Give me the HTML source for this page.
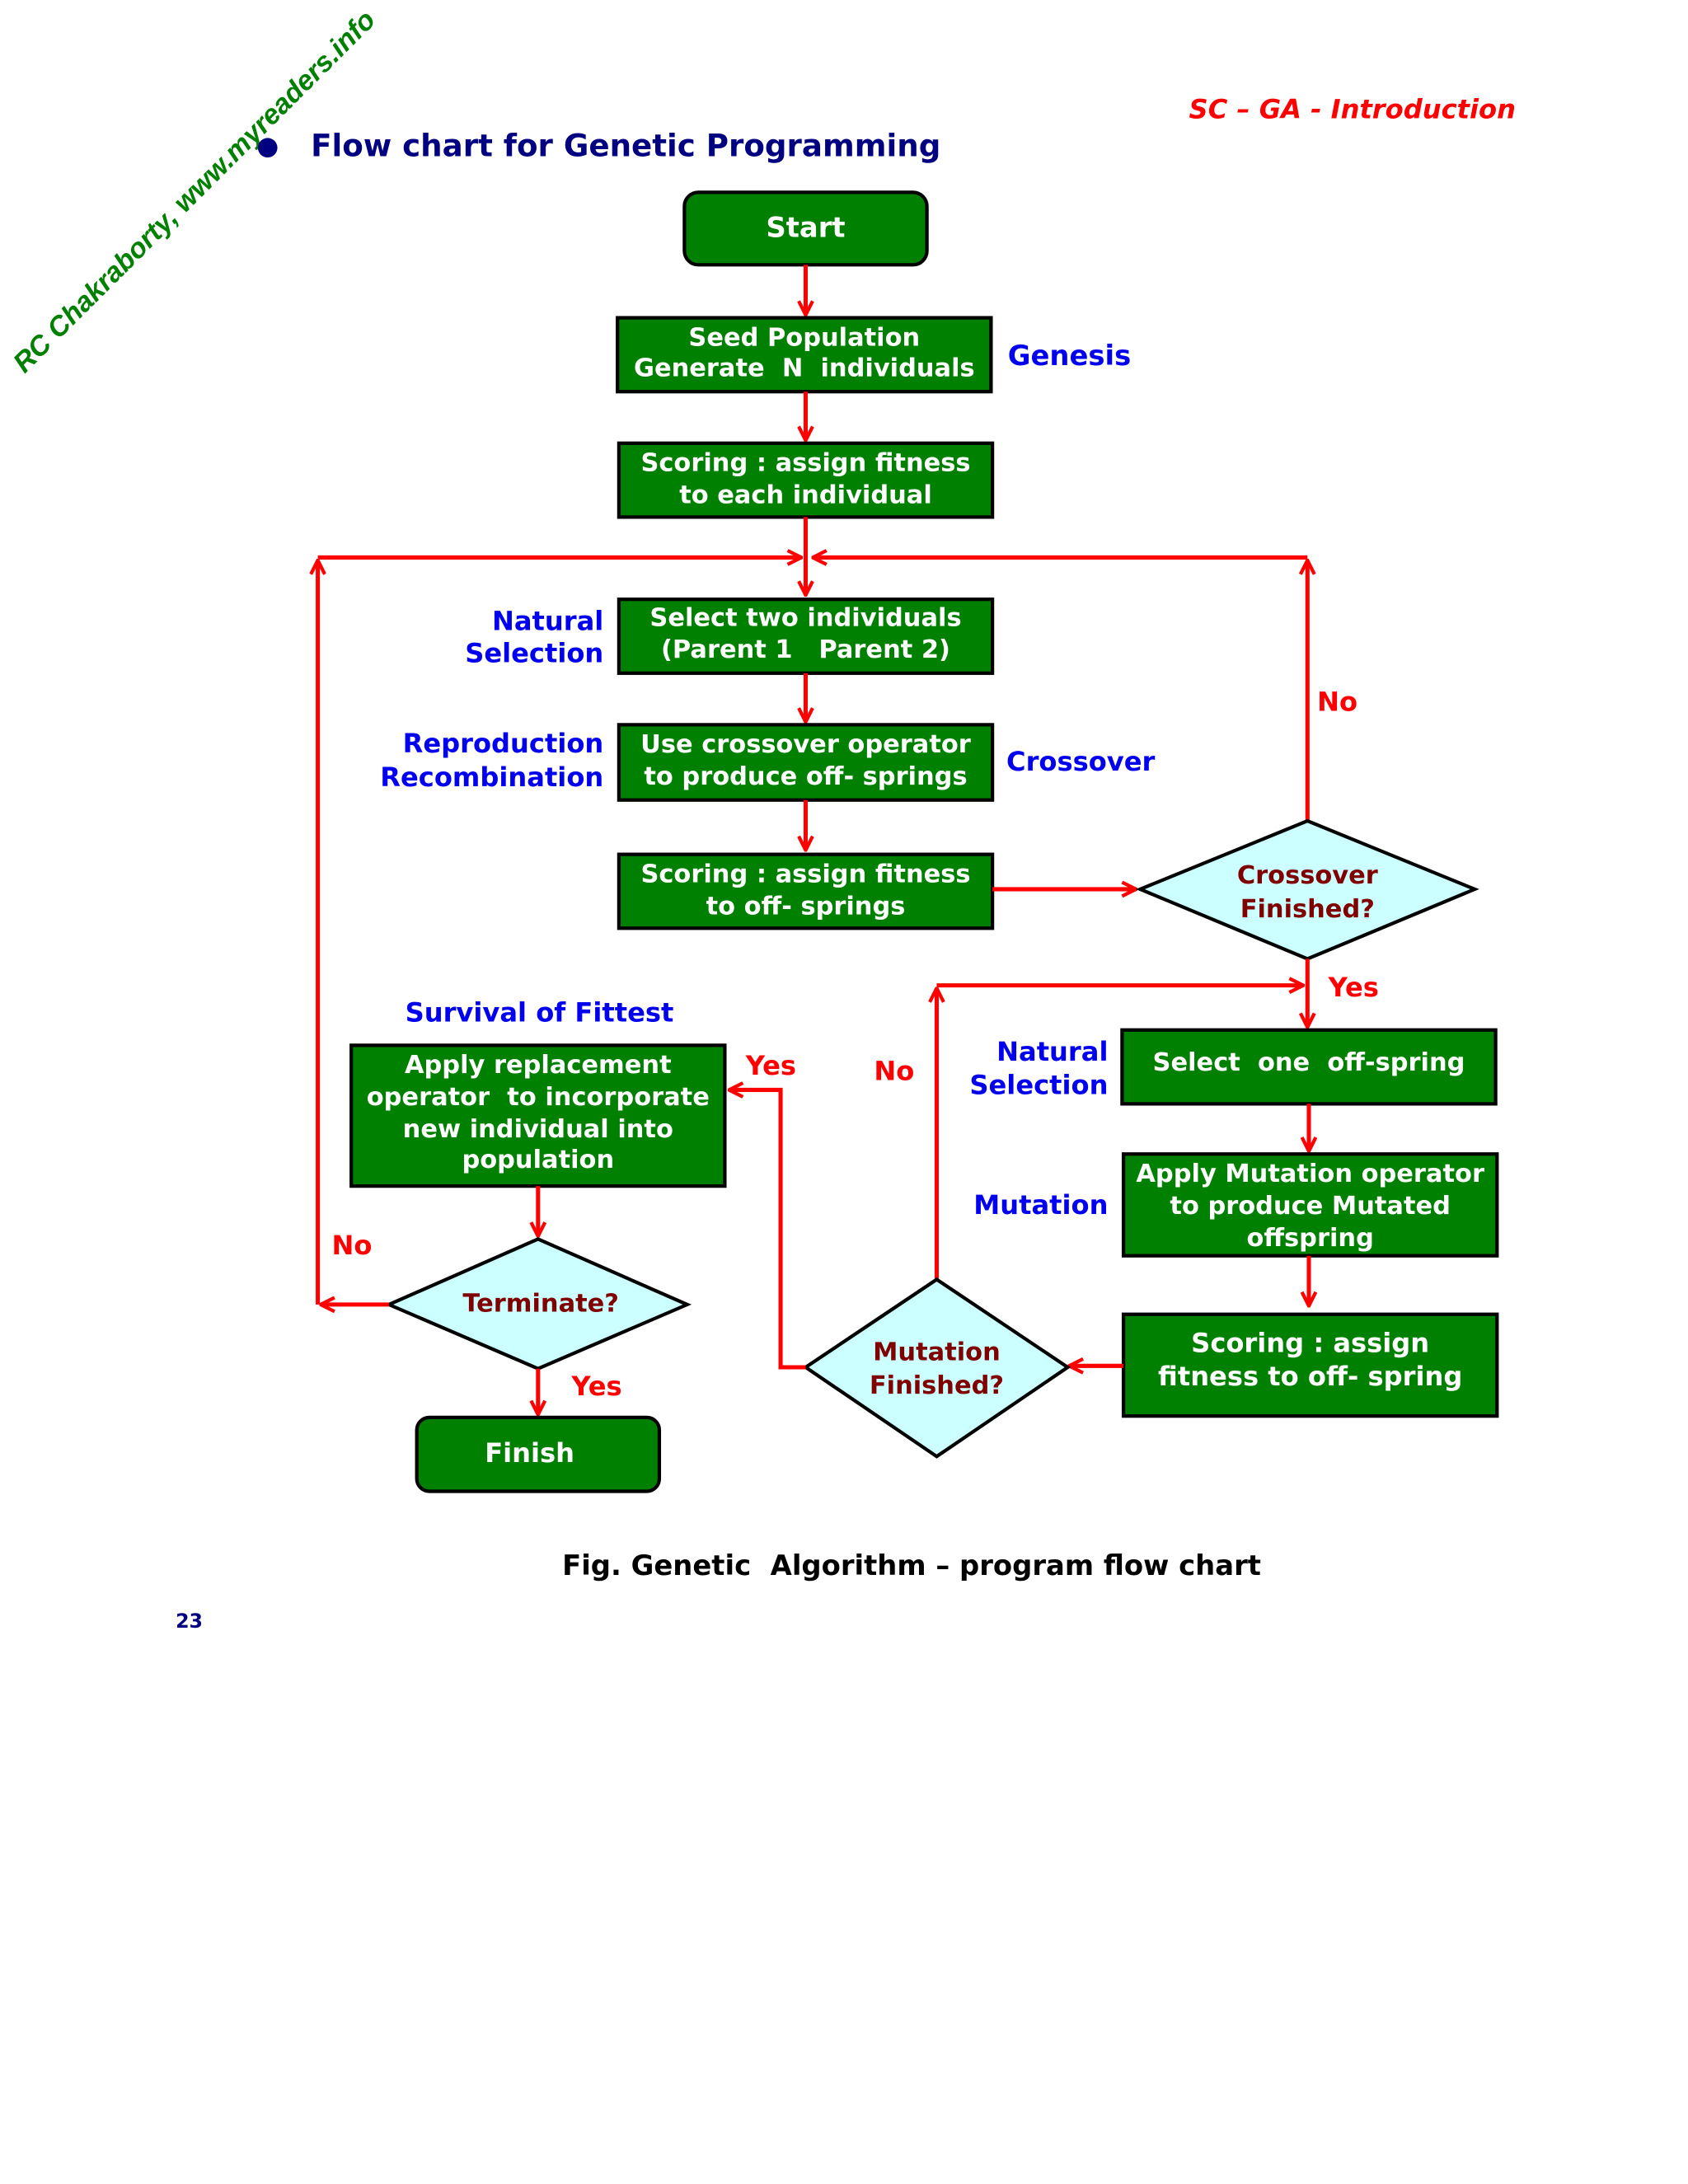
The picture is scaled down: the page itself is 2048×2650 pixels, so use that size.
<!DOCTYPE html>
<html><head><meta charset="utf-8"><style>
html,body{margin:0;padding:0;background:#fff}
svg{display:block}
text{font-family:"DejaVu Sans","Liberation Sans",sans-serif;font-weight:bold;white-space:pre}
.w{fill:#fff;font-size:18px;text-anchor:middle}
.b{fill:#0000ee;font-size:19px}
.r{fill:#ff0000;font-size:19px}
.d{fill:#800000;font-size:18px;text-anchor:middle}
.box{fill:#008000;stroke:#000;stroke-width:2.5}
.dia{fill:#ccffff;stroke:#000;stroke-width:2.5}
.ln{stroke:#ff0000;stroke-width:3;fill:none}
</style></head><body>
<svg width="2048" height="2650" viewBox="0 0 1211 1567" xmlns="http://www.w3.org/2000/svg" xml:space="preserve">
<defs><marker id="a" viewBox="0 0 12 12" refX="11" refY="6" markerWidth="12" markerHeight="12" markerUnits="userSpaceOnUse" orient="auto"><path d="M1,1 L11,6 L1,11" fill="none" stroke="#ff0000" stroke-width="2.5"/></marker></defs>
<text transform="translate(144,142) rotate(-45)" text-anchor="middle" style="fill:#008000;font-size:20px;font-style:italic;font-family:'Liberation Sans',sans-serif">RC Chakraborty, www.myreaders.info</text>
<circle cx="192" cy="106" r="7" fill="#000080"/>
<text x="223" y="112" style="fill:#000080;font-size:22px">Flow chart for Genetic Programming</text>
<text x="853" y="85" style="fill:#ff0000;font-size:19px;font-style:italic">SC – GA - Introduction</text>

<rect class="box" x="491" y="138" width="174" height="52" rx="10"/>
<text class="w" x="578" y="170" style="font-size:20px">Start</text>
<line class="ln" x1="578" y1="190" x2="578" y2="226" marker-end="url(#a)"/>
<rect class="box" x="443" y="228" width="268" height="53"/>
<text class="w" x="577" y="248">Seed Population</text>
<text class="w" x="577" y="270">Generate  N  individuals</text>
<text class="b" x="723" y="262" style="font-size:20px">Genesis</text>
<line class="ln" x1="578" y1="281" x2="578" y2="316" marker-end="url(#a)"/>
<rect class="box" x="444" y="318" width="268" height="53"/>
<text class="w" x="578" y="338">Scoring : assign fitness</text>
<text class="w" x="578" y="361">to each individual</text>
<line class="ln" x1="578" y1="371" x2="578" y2="427" marker-end="url(#a)"/>

<line class="ln" x1="228" y1="936" x2="228" y2="402" marker-end="url(#a)"/>
<line class="ln" x1="228" y1="400" x2="575" y2="400" marker-end="url(#a)"/>
<line class="ln" x1="938" y1="589" x2="938" y2="402" marker-end="url(#a)"/>
<line class="ln" x1="938" y1="400" x2="583" y2="400" marker-end="url(#a)"/>

<rect class="box" x="444" y="430" width="268" height="53"/>
<text class="w" x="578" y="449">Select two individuals</text>
<text class="w" x="578" y="472">(Parent 1   Parent 2)</text>
<text class="b" x="433" y="452" text-anchor="end">Natural</text>
<text class="b" x="433" y="475" text-anchor="end">Selection</text>
<line class="ln" x1="578" y1="483" x2="578" y2="518" marker-end="url(#a)"/>
<rect class="box" x="444" y="520" width="268" height="54"/>
<text class="w" x="578" y="540">Use crossover operator</text>
<text class="w" x="578" y="563">to produce off- springs</text>
<text class="b" x="433" y="540" text-anchor="end">Reproduction</text>
<text class="b" x="433" y="564" text-anchor="end">Recombination</text>
<text class="b" x="722" y="553">Crossover</text>
<line class="ln" x1="578" y1="574" x2="578" y2="610" marker-end="url(#a)"/>
<rect class="box" x="444" y="613" width="268" height="53"/>
<text class="w" x="578" y="633">Scoring : assign fitness</text>
<text class="w" x="578" y="656">to off- springs</text>
<line class="ln" x1="712" y1="638" x2="815" y2="638" marker-end="url(#a)"/>

<polygon class="dia" points="818,638 938,589 1058,638 938,688"/>
<text class="d" x="938" y="634">Crossover</text>
<text class="d" x="938" y="658">Finished?</text>
<text class="r" x="945" y="510">No</text>
<line class="ln" x1="938" y1="688" x2="938" y2="737" marker-end="url(#a)"/>
<text class="r" x="953" y="715">Yes</text>

<line class="ln" x1="672" y1="918" x2="672" y2="709" marker-end="url(#a)"/>
<line class="ln" x1="672" y1="707" x2="935" y2="707" marker-end="url(#a)"/>
<text class="r" x="627" y="775">No</text>

<rect class="box" x="805" y="739" width="268" height="53"/>
<text class="w" x="939" y="768">Select  one  off-spring</text>
<text class="b" x="795" y="761" text-anchor="end">Natural</text>
<text class="b" x="795" y="785" text-anchor="end">Selection</text>
<line class="ln" x1="939" y1="792" x2="939" y2="826" marker-end="url(#a)"/>
<rect class="box" x="806" y="828" width="268" height="73"/>
<text class="w" x="940" y="848">Apply Mutation operator</text>
<text class="w" x="940" y="871">to produce Mutated</text>
<text class="w" x="940" y="894">offspring</text>
<text class="b" x="795" y="871" text-anchor="end">Mutation</text>
<line class="ln" x1="939" y1="901" x2="939" y2="937" marker-end="url(#a)"/>
<rect class="box" x="806" y="943" width="268" height="73"/>
<text class="w" x="940" y="970" style="font-size:19px">Scoring : assign</text>
<text class="w" x="940" y="994" style="font-size:19px">fitness to off- spring</text>
<line class="ln" x1="806" y1="980" x2="767" y2="980" marker-end="url(#a)"/>

<polygon class="dia" points="578,981 672,918 766,981 672,1045"/>
<text class="d" x="672" y="976">Mutation</text>
<text class="d" x="672" y="1000">Finished?</text>
<polyline class="ln" points="578,981 560,981 560,782 523,782" marker-end="url(#a)"/>
<text class="r" x="535" y="771">Yes</text>

<text class="b" x="387" y="733" text-anchor="middle">Survival of Fittest</text>
<rect class="box" x="252" y="750" width="268" height="101"/>
<text class="w" x="386" y="770">Apply replacement</text>
<text class="w" x="386" y="793">operator  to incorporate</text>
<text class="w" x="386" y="816">new individual into</text>
<text class="w" x="386" y="838">population</text>
<line class="ln" x1="386" y1="851" x2="386" y2="887" marker-end="url(#a)"/>
<polygon class="dia" points="279,936 386,889 493,936 386,982"/>
<text class="d" x="388" y="941">Terminate?</text>
<line class="ln" x1="279" y1="936" x2="230" y2="936" marker-end="url(#a)"/>
<text class="r" x="238" y="900">No</text>
<line class="ln" x1="386" y1="982" x2="386" y2="1015" marker-end="url(#a)"/>
<text class="r" x="410" y="1001">Yes</text>
<rect class="box" x="299" y="1017" width="174" height="53" rx="9"/>
<text class="w" x="380" y="1049" style="font-size:19px">Finish</text>

<text x="654" y="1130" text-anchor="middle" style="fill:#000;font-size:20px">Fig. Genetic  Algorithm – program flow chart</text>
<text x="126" y="1168" style="fill:#000080;font-size:14px">23</text>
</svg>
</body></html>
